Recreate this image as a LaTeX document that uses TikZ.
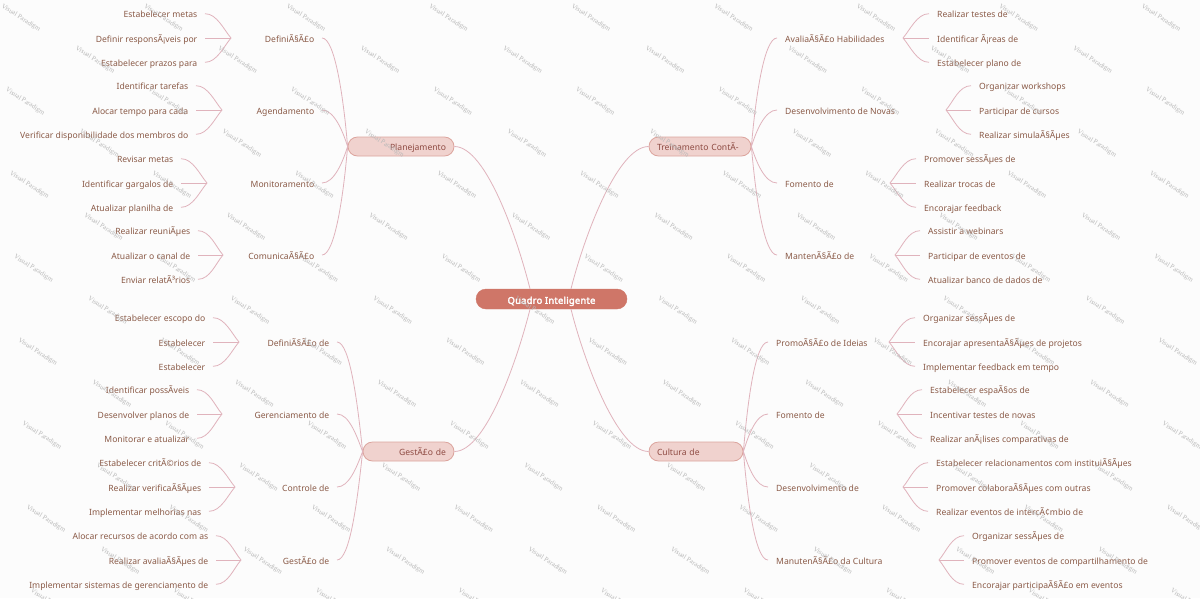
\documentclass[tikz,border=0pt]{standalone}
\usepackage{fontspec}
\setmainfont{Noto Sans}
\newfontfamily\ctrfont[FakeBold=3,LetterSpace=3]{Noto Sans}
\newfontfamily\wmfont{Liberation Serif}
\definecolor{bgc}{HTML}{FCFCFC}
\definecolor{txt}{HTML}{8A5A47}
\definecolor{lone}{HTML}{F0D2CE}
\definecolor{loneb}{HTML}{DCA59E}
\definecolor{lonet}{HTML}{8E4A42}
\definecolor{ctr}{HTML}{CF7668}
\definecolor{conn}{HTML}{E0B3BC}
\newcommand\fsz{\fontsize{8.6}{10}\selectfont}
\tikzset{
  base/.style={inner ysep=0pt, text height=9.5pt, text depth=1.5pt, text=txt, font=\fsz},
  leafL/.style={base, anchor=east, inner xsep=7.5pt},
  leafR/.style={base, anchor=west, inner xsep=8pt},
  lvtwoL/.style={base, anchor=east, inner xsep=7.5pt},
  lvtwoR/.style={base, anchor=west, inner xsep=8pt},
  lone/.style={base, draw=loneb, fill=lone, line width=0.8pt, rounded corners=9.5pt, minimum height=19pt, inner xsep=8pt, text=lonet},
  ctrbox/.style={draw=ctr, fill=ctr, rounded corners=10pt, minimum width=151pt, minimum height=20pt, inner sep=0pt, text height=9.5pt, text depth=0pt, text=white, font=\ctrfont\fontsize{9.3}{11}\selectfont},
  link/.style={draw=conn, line width=0.8pt},
  wm/.style={rotate=-33, font=\wmfont\fontsize{6.8}{8}\selectfont, text=black!28, inner sep=0pt}
}
% left-side group: name, y, l2 east x, fork x, leaf east x, l2 text, leaves
\newcommand\grpL[9]{%
  \node[lvtwoL] (#1) at (#3,#2) {#6};
  \coordinate (#1f) at (#4,#2);
  \node[leafL] (#1a) at (#5,#2-24.3) {#7};
  \node[leafL] (#1b) at (#5,#2) {#8};
  \node[leafL] (#1c) at (#5,#2+24.3) {#9};
  \draw[link] (#1f) .. controls +(-7,-8) and +(12,0) .. (#1a.east);
  \draw[link] (#1f) -- (#1b.east);
  \draw[link] (#1f) .. controls +(-7,8) and +(12,0) .. (#1c.east);
}
\newcommand\grpR[9]{%
  \node[lvtwoR] (#1) at (#3,#2) {#6};
  \coordinate (#1f) at (#4,#2);
  \node[leafR] (#1a) at (#5,#2-24.3) {#7};
  \node[leafR] (#1b) at (#5,#2) {#8};
  \node[leafR] (#1c) at (#5,#2+24.3) {#9};
  \draw[link] (#1f) .. controls +(7,-8) and +(-12,0) .. (#1a.west);
  \draw[link] (#1f) -- (#1b.west);
  \draw[link] (#1f) .. controls +(7,8) and +(-12,0) .. (#1c.west);
}
\begin{document}
\begin{tikzpicture}[x=1pt,y=-1pt]
\useasboundingbox (0,0) rectangle (1200,598);
\fill[bgc] (0,0) rectangle (1200,598);

% central node
\node[ctrbox] (qi) at (551.5,299) {Quadro Inteligente};

% level-1 nodes
\node[lone, text width=90pt, align=right] (plan) at (401,146.5) {Planejamento};
\node[lone, text width=86pt, align=left] (tre) at (700,146.5) {Treinamento ContÃ-};
\node[lone, text width=75pt, align=right] (ges) at (408.5,451.5) {GestÃ£o de};
\node[lone, text width=78pt, align=left] (cul) at (696,451.5) {Cultura de};

% central connectors
\draw[link] (plan.east) .. controls +(32,0) and +(-12,-48) .. ([xshift=-21.5pt]qi.north);
\draw[link] (tre.west) .. controls +(-32,0) and +(12,-48) .. ([xshift=19.5pt]qi.north);
\draw[link] (ges.east) .. controls +(32,0) and +(-12,48) .. ([xshift=-21.5pt]qi.south);
\draw[link] (cul.west) .. controls +(-32,0) and +(12,48) .. ([xshift=19.5pt]qi.south);

% Planejamento branch
\grpL{pa}{38}{322}{231}{205}{DefiniÃ§Ã£o}{Estabelecer metas}{Definir responsÃ¡veis por}{Estabelecer prazos para}
\grpL{pb}{110}{322}{222}{196}{Agendamento}{Identificar tarefas}{Alocar tempo para cada}{Verificar disponibilidade dos membros do}
\grpL{pc}{183}{322}{207}{181}{Monitoramento}{Revisar metas}{Identificar gargalos de}{Atualizar planilha de}
\grpL{pd}{255}{322}{223}{198}{ComunicaÃ§Ã£o}{Realizar reuniÃµes}{Atualizar o canal de}{Enviar relatÃ³rios}
\draw[link] (plan.west) .. controls +(-4,-48) and +(13,0) .. (pa.east);
\draw[link] (plan.west) .. controls +(-5,-16) and +(12,0) .. (pb.east);
\draw[link] (plan.west) .. controls +(-5,16) and +(12,0) .. (pc.east);
\draw[link] (plan.west) .. controls +(-4,48) and +(13,0) .. (pd.east);

% Gestao branch
\grpL{ga}{342}{337}{239}{213}{DefiniÃ§Ã£o de}{Estabelecer escopo do}{Estabelecer}{Estabelecer}
\grpL{gb}{414}{337}{222}{197}{Gerenciamento de}{Identificar possÃveis}{Desenvolver planos de}{Monitorar e atualizar}
\grpL{gc}{487}{337}{235}{209}{Controle de}{Estabelecer critÃ©rios de}{Realizar verificaÃ§Ãµes}{Implementar melhorias nas}
\grpL{gd}{560}{337}{241}{216}{GestÃ£o de}{Alocar recursos de acordo com as}{Realizar avaliaÃ§Ãµes de}{Implementar sistemas de gerenciamento de}
\draw[link] (ges.west) .. controls +(-5,-48) and +(13,0) .. (ga.east);
\draw[link] (ges.west) .. controls +(-6,-16) and +(12,0) .. (gb.east);
\draw[link] (ges.west) .. controls +(-6,16) and +(12,0) .. (gc.east);
\draw[link] (ges.west) .. controls +(-5,48) and +(13,0) .. (gd.east);

% Treinamento branch
\grpR{ta}{38}{777}{903}{929}{AvaliaÃ§Ã£o Habilidades}{Realizar testes de}{Identificar Ã¡reas de}{Estabelecer plano de}
\grpR{tb}{110}{777}{946}{971}{Desenvolvimento de Novas}{Organizar workshops}{Participar de cursos}{Realizar simulaÃ§Ãµes}
\grpR{tc}{183}{777}{890}{916}{Fomento de}{Promover sessÃµes de}{Realizar trocas de}{Encorajar feedback}
\grpR{td}{255}{777}{895}{920}{MantenÃ§Ã£o de}{Assistir a webinars}{Participar de eventos de}{Atualizar banco de dados de}
\draw[link] (tre.east) .. controls +(4,-48) and +(-13,0) .. (ta.west);
\draw[link] (tre.east) .. controls +(5,-16) and +(-12,0) .. (tb.west);
\draw[link] (tre.east) .. controls +(5,16) and +(-12,0) .. (tc.west);
\draw[link] (tre.east) .. controls +(4,48) and +(-13,0) .. (td.west);

% Cultura branch
\grpR{ca}{342}{768}{889}{915}{PromoÃ§Ã£o de Ideias}{Organizar sessÃµes de}{Encorajar apresentaÃ§Ãµes de projetos}{Implementar feedback em tempo}
\grpR{cb}{414}{768}{897}{922}{Fomento de}{Estabelecer espaÃ§os de}{Incentivar testes de novas}{Realizar anÃ¡lises comparativas de}
\grpR{cc}{487}{768}{903}{928}{Desenvolvimento de}{Estabelecer relacionamentos com instituiÃ§Ãµes}{Promover colaboraÃ§Ãµes com outras}{Realizar eventos de intercÃ¢mbio de}
\grpR{cd}{560}{768}{939}{964}{ManutenÃ§Ã£o da Cultura}{Organizar sessÃµes de}{Promover eventos de compartilhamento de}{Encorajar participaÃ§Ã£o em eventos}
\draw[link] (cul.east) .. controls +(4,-48) and +(-13,0) .. (ca.west);
\draw[link] (cul.east) .. controls +(5,-16) and +(-12,0) .. (cb.west);
\draw[link] (cul.east) .. controls +(5,16) and +(-12,0) .. (cc.west);
\draw[link] (cul.east) .. controls +(4,48) and +(-13,0) .. (cd.west);

% watermarks
\foreach \j in {0,...,7} {
  \foreach \i in {0,...,8} {
    \node[wm] at ({20+142.5*\i+0.05*(18+83.5*\j)},{18+83.5*\j}) {Visual Paradigm};
    \node[wm] at ({92+142.5*\i+0.05*(60+83.5*\j)},{60+83.5*\j}) {Visual Paradigm};
  }
}
\end{tikzpicture}
\end{document}
